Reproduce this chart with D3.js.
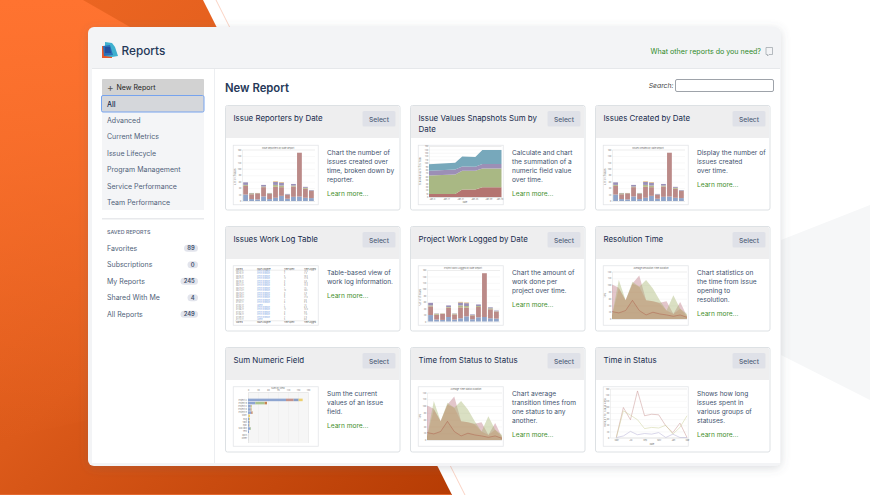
<!DOCTYPE html>
<html>
<head>
<meta charset="utf-8">
<script src="https://cdnjs.cloudflare.com/ajax/libs/d3/7.8.5/d3.min.js"></script>
<style>
  html, body { margin: 0; padding: 0; background: #fff; overflow: hidden; }
  text { font-family: Inter, "Noto Sans", sans-serif; }
</style>
</head>
<body>
<div id="page"></div>
<script>
// sidebar + card text
let sideItems = ["Advanced", "Current Metrics", "Issue Lifecycle", "Program Management", "Service Performance", "Team Performance"];
let savedNames = ["Favorites", "Subscriptions", "My Reports", "Shared With Me", "All Reports"];
let savedCounts = ["89", "0", "245", "4", "249"];
let cardTitles = [
  ["Issue Reporters by Date"], ["Issue Values Snapshots Sum by", "Date"], ["Issues Created by Date"],
  ["Issues Work Log Table"], ["Project Work Logged by Date"], ["Resolution Time"],
  ["Sum Numeric Field"], ["Time from Status to Status"], ["Time in Status"]
];
let cardText = [
  ["Chart the number of", "issues created over", "time, broken down by", "reporter."],
  ["Calculate and chart", "the summation of a", "numeric field value", "over time."],
  ["Display the number of", "issues created", "over time."],
  ["Table-based view of", "work log information."],
  ["Chart the amount of", "work done per", "project over time."],
  ["Chart statistics on", "the time from issue", "opening to", "resolution."],
  ["Sum the current", "values of an issue", "field."],
  ["Chart average", "transition times from", "one status to any", "another."],
  ["Shows how long", "issues spent in", "various groups of", "statuses."]
];

// stacked bars thumbnail
let barDates = ["Jan", "Feb", "Mar", "Apr", "May", "Jun", "Jul", "Aug", "Sep", "Oct", "Nov", "Dec"];
let barBlue = [20, 6, 5, 14, 6, 10, 16, 7, 13, 14, 10, 9];
let barRed = [27, 15, 19, 29, 16, 34, 27, 12, 32, 136, 28, 22];
let barGreen = [3, 3, 1, 2, 2, 6, 5, 1, 3, 0, 3, 1];
let barPurple = [8, 1, 0, 5, 1, 9, 9, 2, 5, 0, 3, 2];
let barOrange = [0, 0, 0, 0, 0, 2, 2, 0, 0, 0, 0, 0];
let barTicks = [0, 20, 40, 60, 80, 100, 120, 140, 160];

// snapshot area thumbnail
let snapDates = [0, 26, 33, 46, 53, 72];
let snapRed = [9, 9, 22, 22, 29, 29];
let snapGreen = [54, 57, 55, 55, 55, 55];
let snapPurple = [14, 15, 13, 12, 13, 13];
let snapBlue = [19, 20, 29, 29, 41, 41];

// work log table
let logDates = ["06/14/21", "06/15/21", "06/16/21", "06/17/21", "06/18/21", "06/21/21", "06/22/21", "06/23/21", "06/24/21", "06/25/21", "06/28/21", "06/29/21", "06/30/21", "07/01/21", "07/02/21", "07/05/21", "07/06/21", "07/07/21", "07/08/21", "07/09/21", "07/12/21"];
let logUsers = ["Kevin Brandon", "Kevin Brandon", "Kevin Brandon", "Kevin Brandon", "Kevin Brandon", "Kevin Brandon", "Kevin Brandon", "Kevin Brandon", "Kevin Brandon", "Kevin Brandon", "Kevin Brandon", "Kevin Brandon", "Kevin Brandon", "Kevin Brandon", "Admin", "Kevin Brandon", "Kevin Brandon", "Kevin Brandon", "Kevin Brandon", "Kevin Brandon", "Admin"];
let logIssues = ["8", "2", "5", "12", "3", "5", "8", "1", "10", "3", "8", "5", "2", "8", "1", "5", "12", "3", "8", "2", "5"];
let logTimes = ["13.5", "2.0", "18.0", "22.5", "4.0", "19.0", "12.0", "1.5", "16.0", "4.5", "7.0", "21.0", "3.0", "9.5", "1.0", "6.5", "24.0", "5.0", "11.0", "2.5", "8.0"];
let logHeaders = ["Started", "Issue Assignee", "Time Spent", "Time Logged"];

// resolution + status area thumbnails
let resDays = ["May 01", "May 15", "Jun 01", "Jun 15", "Jul 01", "Jul 15", "Aug 01", "Aug 15", "Sep 01", "Sep 15", "Oct 01", "Oct 15"];
let resPink = [102, 92, 55, 105, 128, 55, 52, 48, 52, 15, 50, 8];
let resGreen = [10, 115, 55, 110, 95, 115, 90, 55, 25, 70, 30, 15];
let resTan = [10, 90, 55, 104, 95, 55, 52, 46, 25, 15, 30, 8];
let resBrown = [22, 18, 25, 55, 25, 12, 20, 15, 12, 8, 12, 5];
let resTicks = [0, 20, 40, 60, 80, 100, 120, 140];

// time in status lines
let statusDays = ["May", "Jun", "Jul", "Aug", "Sep", "Oct", "Nov", "Dec", "Jan", "Feb", "Mar"];
let statusRed = [0, 98, 58, 152, 71, 76, 74, 38, 16, 47, 0];
let statusGreen = [0, 87, 73, 58, 29, 33, 31, 40, 11, 33, 71];
let statusPurple = [0, 5, 20, 9, 13, 11, 16, 0, 11, 0, 0];
let statusTicks = [0, 20, 40, 60, 80, 100, 120, 140, 160];

// sum field bars
let sumNames = ["Project A", "Project B", "Project C", "Project D", "Project E", "Story", "Bug", "Task", "Epic", "Sub-task", "Test", "Docs", "Other"];
let sumBlue = [114, 22, 8, 8, 9, 1, 3, 4, 3, 7, 3, 0, 0];
let sumRed = [23, 0, 1, 2, 5, 0, 0, 1, 1, 0, 0, 0, 0];
let sumSlate = [15, 0, 0, 0, 0, 0, 0, 0, 0, 0, 0, 0, 0];
let sumGreen = [0, 28, 2, 1, 0, 0, 0, 0, 0, 2, 0, 0, 0];
let sumOrange = [0, 7, 0, 0, 0, 0, 0, 0, 0, 0, 0, 0, 0];
let sumYellow = [12, 0, 1, 1, 1, 5, 3, 1, 1, 0, 0, 0, 0];
let sumTicks = [0, 30, 60, 90, 120, 150, 180];

let svgWidth = 870;
let svgHeight = 495;

let svg = d3.select("#page").append("svg")
  .attr("width", svgWidth).attr("height", svgHeight)
  .style("display", "block");

let defs = svg.append("defs");

let orangeGrad = defs.append("linearGradient").attr("id", "orange")
  .attr("gradientUnits", "userSpaceOnUse")
  .attr("x1", 0).attr("y1", 0).attr("x2", 450).attr("y2", 495);
orangeGrad.append("stop").attr("offset", 0).attr("stop-color", "#ee6723");
orangeGrad.append("stop").attr("offset", 0.5).attr("stop-color", "#dc5a1a");
orangeGrad.append("stop").attr("offset", 1).attr("stop-color", "#b63c04");

let lightGrad = defs.append("linearGradient").attr("id", "lightOrange")
  .attr("x1", 0).attr("y1", 0).attr("x2", 0).attr("y2", 1);
lightGrad.append("stop").attr("offset", 0).attr("stop-color", "#ff7330").attr("stop-opacity", 1);
lightGrad.append("stop").attr("offset", 1).attr("stop-color", "#ff7330").attr("stop-opacity", 0);

let shadow = defs.append("filter").attr("id", "shadow")
  .attr("x", "-5%").attr("y", "-5%").attr("width", "110%").attr("height", "112%");
shadow.append("feDropShadow").attr("dx", 0).attr("dy", 2).attr("stdDeviation", 5)
  .attr("flood-color", "#5a6470").attr("flood-opacity", 0.22);

// background
svg.append("polygon").attr("points", "781,240 870,205 870,400 781,355").attr("fill", "#f6f7f8");
svg.append("polygon").attr("points", "0,0 203,0 452,495 0,495").attr("fill", "url(#orange)");
svg.append("polygon").attr("points", "0,0 83,0 130,27 88,420 0,440").attr("fill", "url(#lightOrange)");
svg.append("rect").attr("x", 0).attr("y", 494).attr("width", 451).attr("height", 1).attr("fill", "#e4682e");
svg.append("line").attr("x1", 216).attr("y1", 0).attr("x2", 465).attr("y2", 495)
  .attr("stroke", "#f7b49a").attr("stroke-width", 0.6);

// window
svg.append("rect").attr("x", 88).attr("y", 27).attr("width", 693).attr("height", 439).attr("rx", 6)
  .attr("fill", "#f3f4f6").attr("filter", "url(#shadow)");
svg.append("rect").attr("x", 92).attr("y", 69).attr("width", 688).attr("height", 394).attr("fill", "#fff");
svg.append("line").attr("x1", 92).attr("x2", 780).attr("y1", 68.5).attr("y2", 68.5).attr("stroke", "#e6e8eb");
svg.append("line").attr("x1", 214.5).attr("x2", 214.5).attr("y1", 69).attr("y2", 463).attr("stroke", "#eceef1");

// logo
let logo = svg.append("g");
logo.append("rect").attr("x", 102).attr("y", 46).attr("width", 10).attr("height", 12).attr("fill", "#e8582a");
logo.append("polygon").attr("points", "105,42 112,43 115,47 118,56 112,57 105,56").attr("fill", "#3fb0cf");
logo.append("polygon").attr("points", "103,46 110,45 113,55 104,56").attr("fill", "#2a6fb8");
logo.append("polygon").attr("points", "105,47 110,47 111,53 105,53").attr("fill", "#234f9f");

svg.append("text").attr("x", 121.5).attr("y", 54.5).text("Reports")
  .attr("font-size", 11.8).attr("font-weight", 500).attr("fill", "#253858");

svg.append("text").attr("x", 761).attr("y", 53.5).attr("text-anchor", "end")
  .text("What other reports do you need?")
  .attr("font-size", 7.1).attr("fill", "#2f8a2a");
svg.append("path").attr("d", "M766,47.5h6.5v7h-3.5l-1.5,1.5v-1.5h-1.5z")
  .attr("fill", "none").attr("stroke", "#9aa0a8").attr("stroke-width", 0.7);

// sidebar
svg.append("rect").attr("x", 102).attr("y", 79).attr("width", 102).attr("height", 131).attr("fill", "#f4f5f7");
svg.append("rect").attr("x", 102).attr("y", 79).attr("width", 102).attr("height", 17).attr("rx", 1).attr("fill", "#d2d2d2");
svg.append("text").attr("x", 107).attr("y", 90.5).text("+").attr("font-size", 10).attr("fill", "#555");
svg.append("text").attr("x", 116.5).attr("y", 90).text("New Report").attr("font-size", 7).attr("fill", "#222");
svg.append("rect").attr("x", 101.5).attr("y", 95.5).attr("width", 102.5).attr("height", 16.5).attr("rx", 1.5)
  .attr("fill", "#d5d7db").attr("stroke", "#76a3ee").attr("stroke-width", 1);
svg.append("text").attr("x", 107).attr("y", 106.5).text("All").attr("font-size", 7).attr("font-weight", 500).attr("fill", "#172b4d");

let sideY = d3.scaleLinear().domain([0, 5]).range([120, 202.5]);
svg.append("g").selectAll("text").data(sideItems).enter().append("text")
  .attr("x", 107).attr("y", (d, i) => sideY(i) + 2.5)
  .text(d => d).attr("font-size", 7).attr("fill", "#505f79");

svg.append("rect").attr("x", 102).attr("y", 218).attr("width", 102).attr("height", 1.5).attr("fill", "#e8e9ec");
svg.append("text").attr("x", 107).attr("y", 234).text("SAVED REPORTS")
  .attr("font-size", 5.3).attr("font-weight", 500).attr("fill", "#5e6c84");

let savedY = d3.scaleLinear().domain([0, 4]).range([248.3, 314.3]);
let savedRows = svg.append("g").selectAll("g").data(savedNames).enter().append("g")
  .attr("transform", (d, i) => `translate(0,${savedY(i)})`);
savedRows.append("text").attr("x", 107).attr("y", 2.5).text(d => d).attr("font-size", 7).attr("fill", "#505f79");
savedRows.append("rect")
  .attr("x", (d, i) => 198 - (7 + savedCounts[i].length * 3.5))
  .attr("y", -3.5).attr("height", 7).attr("rx", 3.5)
  .attr("width", (d, i) => 7 + savedCounts[i].length * 3.5)
  .attr("fill", "#e2e4ec");
savedRows.append("text")
  .attr("x", (d, i) => 198 - (7 + savedCounts[i].length * 3.5) / 2)
  .attr("y", 2.1).attr("text-anchor", "middle")
  .text((d, i) => savedCounts[i])
  .attr("font-size", 5.8).attr("font-weight", 600).attr("fill", "#42526e");

// main heading + search
svg.append("text").attr("x", 225).attr("y", 91.5).text("New Report")
  .attr("font-size", 11.3).attr("font-weight", 600).attr("fill", "#253858");
svg.append("text").attr("x", 673.5).attr("y", 87.5).attr("text-anchor", "end").text("Search:")
  .attr("font-size", 6.8).attr("font-style", "italic").attr("fill", "#444");
svg.append("rect").attr("x", 675.5).attr("y", 79.5).attr("width", 98).attr("height", 12).attr("rx", 1.5)
  .attr("fill", "#fff").attr("stroke", "#858b94").attr("stroke-width", 0.8);

// cards
let colX = d3.scaleLinear().domain([0, 2]).range([225, 595]);
let rowY = d3.scaleLinear().domain([0, 2]).range([105, 347]);
let thumbDraw = [drawBars, drawSnapshot, drawBars, drawTable, drawBars, drawResolution, drawSum, drawResolution, drawStatus];
let thumbTitles = ["Issue Reporters by Date Report", "", "Issues Created by Date Report", "", "Project Work Logged by Date Report", "Average Resolution Time Duration", "Sum by Field", "Average Time Status Duration", ""];

cardTitles.forEach(function(title, i) {
  let col = i % 3;
  let row = Math.floor(i / 3);
  let card = svg.append("g").attr("transform", `translate(${colX(col)},${rowY(row)})`);

  card.append("rect").attr("x", 0.5).attr("y", 0.5).attr("width", 174.5).attr("height", 104.5).attr("rx", 2)
    .attr("fill", "#fff").attr("stroke", "#dde1e4").attr("stroke-width", 1);
  card.append("path").attr("d", "M1,33V2.5a1.5,1.5 0 0 1 1.5,-1.5H172.5a1.5,1.5 0 0 1 1.5,1.5V33z").attr("fill", "#eeeeef");

  title.forEach(function(line, k) {
    card.append("text").attr("x", 8.5).attr("y", 15.5 + k * 11).text(line)
      .attr("font-size", 7.9).attr("fill", "#172b4d");
  });

  card.append("rect").attr("x", 137.5).attr("y", 6).attr("width", 33).attr("height", 15.5).attr("rx", 1.5).attr("fill", "#dfe1e8");
  card.append("text").attr("x", 154).attr("y", 16.5).attr("text-anchor", "middle").text("Select")
    .attr("font-size", 6.7).attr("font-weight", 500).attr("fill", "#505f79");

  // description
  let textTop = row == 0 ? 49.5 : 48.5;
  cardText[i].forEach(function(line, k) {
    card.append("text").attr("x", 102).attr("y", textTop + k * 9).text(line)
      .attr("font-size", 6.6).attr("fill", "#42526e");
  });
  card.append("text").attr("x", 102).attr("y", textTop + (cardText[i].length - 1) * 9 + 14.5)
    .text("Learn more...").attr("font-size", 6.6).attr("fill", "#3f8f2c");

  // thumbnail frame
  let thumb = card.append("g").attr("transform", `translate(8,${row == 0 ? 40 : 39.5})`);
  thumb.append("rect").attr("x", 0.25).attr("y", 0.25).attr("width", 85).attr("height", 59.5)
    .attr("fill", "#fff").attr("stroke", "#e3e5e8").attr("stroke-width", 0.8);
  thumbDraw[i](thumb, thumbTitles[i]);
});

function tinyTitle(g, label, x, y) {
  g.append("text").attr("x", x).attr("y", y).attr("text-anchor", "middle").text(label)
    .attr("font-size", 2.2).attr("fill", "#666");
}

function styleAxis(axisG) {
  axisG.selectAll("text").attr("font-size", 2).attr("fill", "#777").style("font-family", "Inter");
  axisG.selectAll("line").attr("stroke", "#e8e8e8").attr("stroke-width", 0.3);
  axisG.select(".domain").attr("stroke", "#ccc").attr("stroke-width", 0.3);
}

function drawBars(g, label) {
  let plot = {left: 9, right: 82, top: 4.5, bottom: 56};
  let rows = barDates.map((d, i) => ({
    date: d, blue: barBlue[i], red: barRed[i], green: barGreen[i], purple: barPurple[i], orange: barOrange[i]
  }));
  let keys = ["blue", "red", "green", "purple", "orange"];
  let colors = {blue: "#8fa4c9", red: "#bb8a88", green: "#b5b985", purple: "#9a90b8", orange: "#e3b877"};

  let xScale = d3.scaleBand().domain(barDates).range([plot.left, plot.right]).padding(0.2);
  let yScale = d3.scaleLinear().domain([0, 160]).range([plot.bottom, plot.top]);

  tinyTitle(g, label, 45, 3.8);
  let leftAxis = d3.axisLeft(yScale).tickValues(barTicks).tickSize(-(plot.right - plot.left)).tickPadding(0.8);
  let axisG = g.append("g").attr("transform", `translate(${plot.left},0)`).call(leftAxis);
  styleAxis(axisG);
  g.append("text").attr("transform", `translate(3,32) rotate(-90)`).attr("text-anchor", "middle")
    .text("Number of Issues").attr("font-size", 2).attr("fill", "#666");

  g.append("g").selectAll("g").data(d3.stack().keys(keys)(rows)).enter().append("g")
    .attr("fill", s => colors[s.key])
    .selectAll("rect").data(s => s).enter().append("rect")
    .attr("x", d => xScale(d.data.date))
    .attr("width", xScale.bandwidth())
    .attr("y", d => yScale(d[1]))
    .attr("height", d => yScale(d[0]) - yScale(d[1]));
}

function drawSnapshot(g) {
  let plot = {left: 11, right: 83.5, top: 1, bottom: 52};
  let rows = snapDates.map((d, i) => ({
    date: d, red: snapRed[i], green: snapGreen[i], purple: snapPurple[i], blue: snapBlue[i]
  }));
  let keys = ["red", "green", "purple", "blue"];
  let colors = {red: "#b47471", green: "#a9b884", purple: "#9c8fb6", blue: "#77a8bb"};

  let xScale = d3.scaleLinear().domain([0, 72]).range([plot.left, plot.right]);
  let yScale = d3.scaleLinear().domain([0, 150]).range([plot.bottom, plot.top]);

  let leftAxis = d3.axisLeft(yScale).ticks(15).tickSize(-(plot.right - plot.left)).tickPadding(0.8);
  let axisG = g.append("g").attr("transform", `translate(${plot.left},0)`).call(leftAxis);
  styleAxis(axisG);
  let bottomAxis = d3.axisBottom(xScale).tickValues([3, 17, 31, 45, 59, 70]).tickFormat(d => "Jan-" + d).tickSize(1).tickPadding(0.6);
  styleAxis(g.append("g").attr("transform", `translate(0,${plot.bottom})`).call(bottomAxis));
  g.append("text").attr("x", 47).attr("y", 58).attr("text-anchor", "middle").text("Date").attr("font-size", 2).attr("fill", "#666");
  g.append("text").attr("transform", `translate(3,26) rotate(-90)`).attr("text-anchor", "middle")
    .text("Total Value (Sum of Estimate)").attr("font-size", 2).attr("fill", "#666");

  let area = d3.area().x(d => xScale(d.data.date)).y0(d => yScale(d[0])).y1(d => yScale(d[1]));
  g.append("g").selectAll("path").data(d3.stack().keys(keys)(rows)).enter().append("path")
    .attr("d", area).attr("fill", s => colors[s.key]);
}

function drawTable(g) {
  let colLeft = [3, 24, 51, 71];
  let rowScale = d3.scaleLinear().domain([0, 22]).range([4, 57]);

  function addRow(vals, r, colors, weight, op) {
    vals.forEach(function(v, k) {
      g.append("text").attr("x", colLeft[k]).attr("y", rowScale(r)).text(v)
        .attr("font-size", 1.9).attr("font-weight", weight).attr("fill", colors[k]).attr("fill-opacity", op);
    });
  }

  addRow(logHeaders, 0, ["#333", "#333", "#333", "#333"], 500, 0.9);
  logDates.forEach(function(d, i) {
    addRow([d, logUsers[i], logIssues[i], logTimes[i]], i + 1, ["#555", "#4f84d8", "#555", "#555"], 400, 0.75);
  });
  addRow(logHeaders, 22, ["#333", "#333", "#333", "#333"], 500, 0.9);
  g.append("line").attr("x1", 2).attr("x2", 83).attr("y1", rowScale(0) + 0.7).attr("y2", rowScale(0) + 0.7).attr("stroke", "#bbb").attr("stroke-width", 0.3);
  g.append("line").attr("x1", 2).attr("x2", 83).attr("y1", rowScale(21) + 0.7).attr("y2", rowScale(21) + 0.7).attr("stroke", "#bbb").attr("stroke-width", 0.3);
}

function drawResolution(g, label) {
  let plot = {left: 9, right: 84, top: 6, bottom: 53.5};
  let xScale = d3.scalePoint().domain(resDays).range([plot.left, plot.right]);
  let yScale = d3.scaleLinear().domain([0, 140]).range([plot.bottom, plot.top]);

  tinyTitle(g, label, 48, 3.8);
  let leftAxis = d3.axisLeft(yScale).tickValues(resTicks).tickSize(-(plot.right - plot.left)).tickPadding(0.8);
  styleAxis(g.append("g").attr("transform", `translate(${plot.left},0)`).call(leftAxis));
  g.append("text").attr("transform", `translate(3,30) rotate(-90)`).attr("text-anchor", "middle")
    .text("Days").attr("font-size", 2).attr("fill", "#666");

  let area = d3.area().x((d, i) => xScale(resDays[i])).y0(plot.bottom).y1(d => yScale(d));
  let line = d3.line().x((d, i) => xScale(resDays[i])).y(d => yScale(d));

  g.append("path").attr("d", area(resPink)).attr("fill", "#b8707c").attr("fill-opacity", 0.4);
  g.append("path").attr("d", area(resGreen)).attr("fill", "#a3b26a").attr("fill-opacity", 0.4);
  g.append("path").attr("d", area(resTan)).attr("fill", "#c0703a").attr("fill-opacity", 0.2);
  g.append("path").attr("d", area(resBrown)).attr("fill", "#8a5a3a").attr("fill-opacity", 0.06);
  g.append("path").attr("d", line(resBrown)).attr("fill", "none").attr("stroke", "#a8503f").attr("stroke-width", 0.4);
}

function drawStatus(g) {
  let plot = {axis: 7, left: 13.3, right: 84, top: 2, bottom: 51};
  let xScale = d3.scalePoint().domain(statusDays).range([plot.left, plot.right]);
  let yScale = d3.scaleLinear().domain([0, 160]).range([plot.bottom, plot.top]);

  let leftAxis = d3.axisLeft(yScale).tickValues(statusTicks).tickSize(-(plot.right - plot.axis)).tickPadding(0.8);
  styleAxis(g.append("g").attr("transform", `translate(${plot.axis},0)`).call(leftAxis));
  let bottomAxis = d3.axisBottom(xScale).tickValues(statusDays.filter((d, i) => i % 2 == 0)).tickSize(1).tickPadding(0.6);
  styleAxis(g.append("g").attr("transform", `translate(0,${plot.bottom})`).call(bottomAxis));
  g.append("text").attr("x", 49).attr("y", 58).attr("text-anchor", "middle").text("Date").attr("font-size", 2).attr("fill", "#666");
  g.append("text").attr("transform", `translate(2.5,26) rotate(-90)`).attr("text-anchor", "middle")
    .text("Average Time in Status (days)").attr("font-size", 2).attr("fill", "#666");

  let line = d3.line().x((d, i) => xScale(statusDays[i])).y(d => yScale(d));
  [[statusRed, "#c99593"], [statusGreen, "#cdd19b"], [statusPurple, "#b3aed4"]].forEach(function(s) {
    g.append("path").attr("d", line(s[0])).attr("fill", "none").attr("stroke", s[1]).attr("stroke-width", 0.5);
  });
}

function drawSum(g, label) {
  let plot = {left: 15, right: 75, top: 5.5, bottom: 56.5};
  let rows = sumNames.map((d, i) => ({
    name: d, blue: sumBlue[i], red: sumRed[i], slate: sumSlate[i], green: sumGreen[i], orange: sumOrange[i], yellow: sumYellow[i]
  }));
  let keys = ["blue", "red", "slate", "green", "orange", "yellow"];
  let colors = {blue: "#8ea5d0", red: "#c3938c", slate: "#8a9ec4", green: "#a9c48e", orange: "#c9824f", yellow: "#eccf6d"};

  let yScale = d3.scaleBand().domain(sumNames).range([11.5, 53.5]).padding(0.2);
  let xScale = d3.scaleLinear().domain([0, 180]).range([plot.left, plot.right]);

  tinyTitle(g, label, 45, 2.4);
  g.append("rect").attr("x", plot.left).attr("y", plot.top).attr("width", plot.right - plot.left)
    .attr("height", plot.bottom - plot.top).attr("fill", "#f6f6f6");
  let topAxis = d3.axisTop(xScale).tickValues(sumTicks).tickSize(-(plot.bottom - plot.top)).tickPadding(0.6);
  styleAxis(g.append("g").attr("transform", `translate(0,${plot.top})`).call(topAxis));
  let leftAxis = d3.axisLeft(yScale).tickSize(0).tickPadding(1);
  styleAxis(g.append("g").attr("transform", `translate(${plot.left},0)`).call(leftAxis));

  g.append("g").selectAll("g").data(d3.stack().keys(keys)(rows)).enter().append("g")
    .attr("fill", s => colors[s.key])
    .selectAll("rect").data(s => s).enter().append("rect")
    .attr("y", d => yScale(d.data.name))
    .attr("height", yScale.bandwidth())
    .attr("x", d => xScale(d[0]))
    .attr("width", d => xScale(d[1]) - xScale(d[0]));
}
</script>
</body>
</html>
